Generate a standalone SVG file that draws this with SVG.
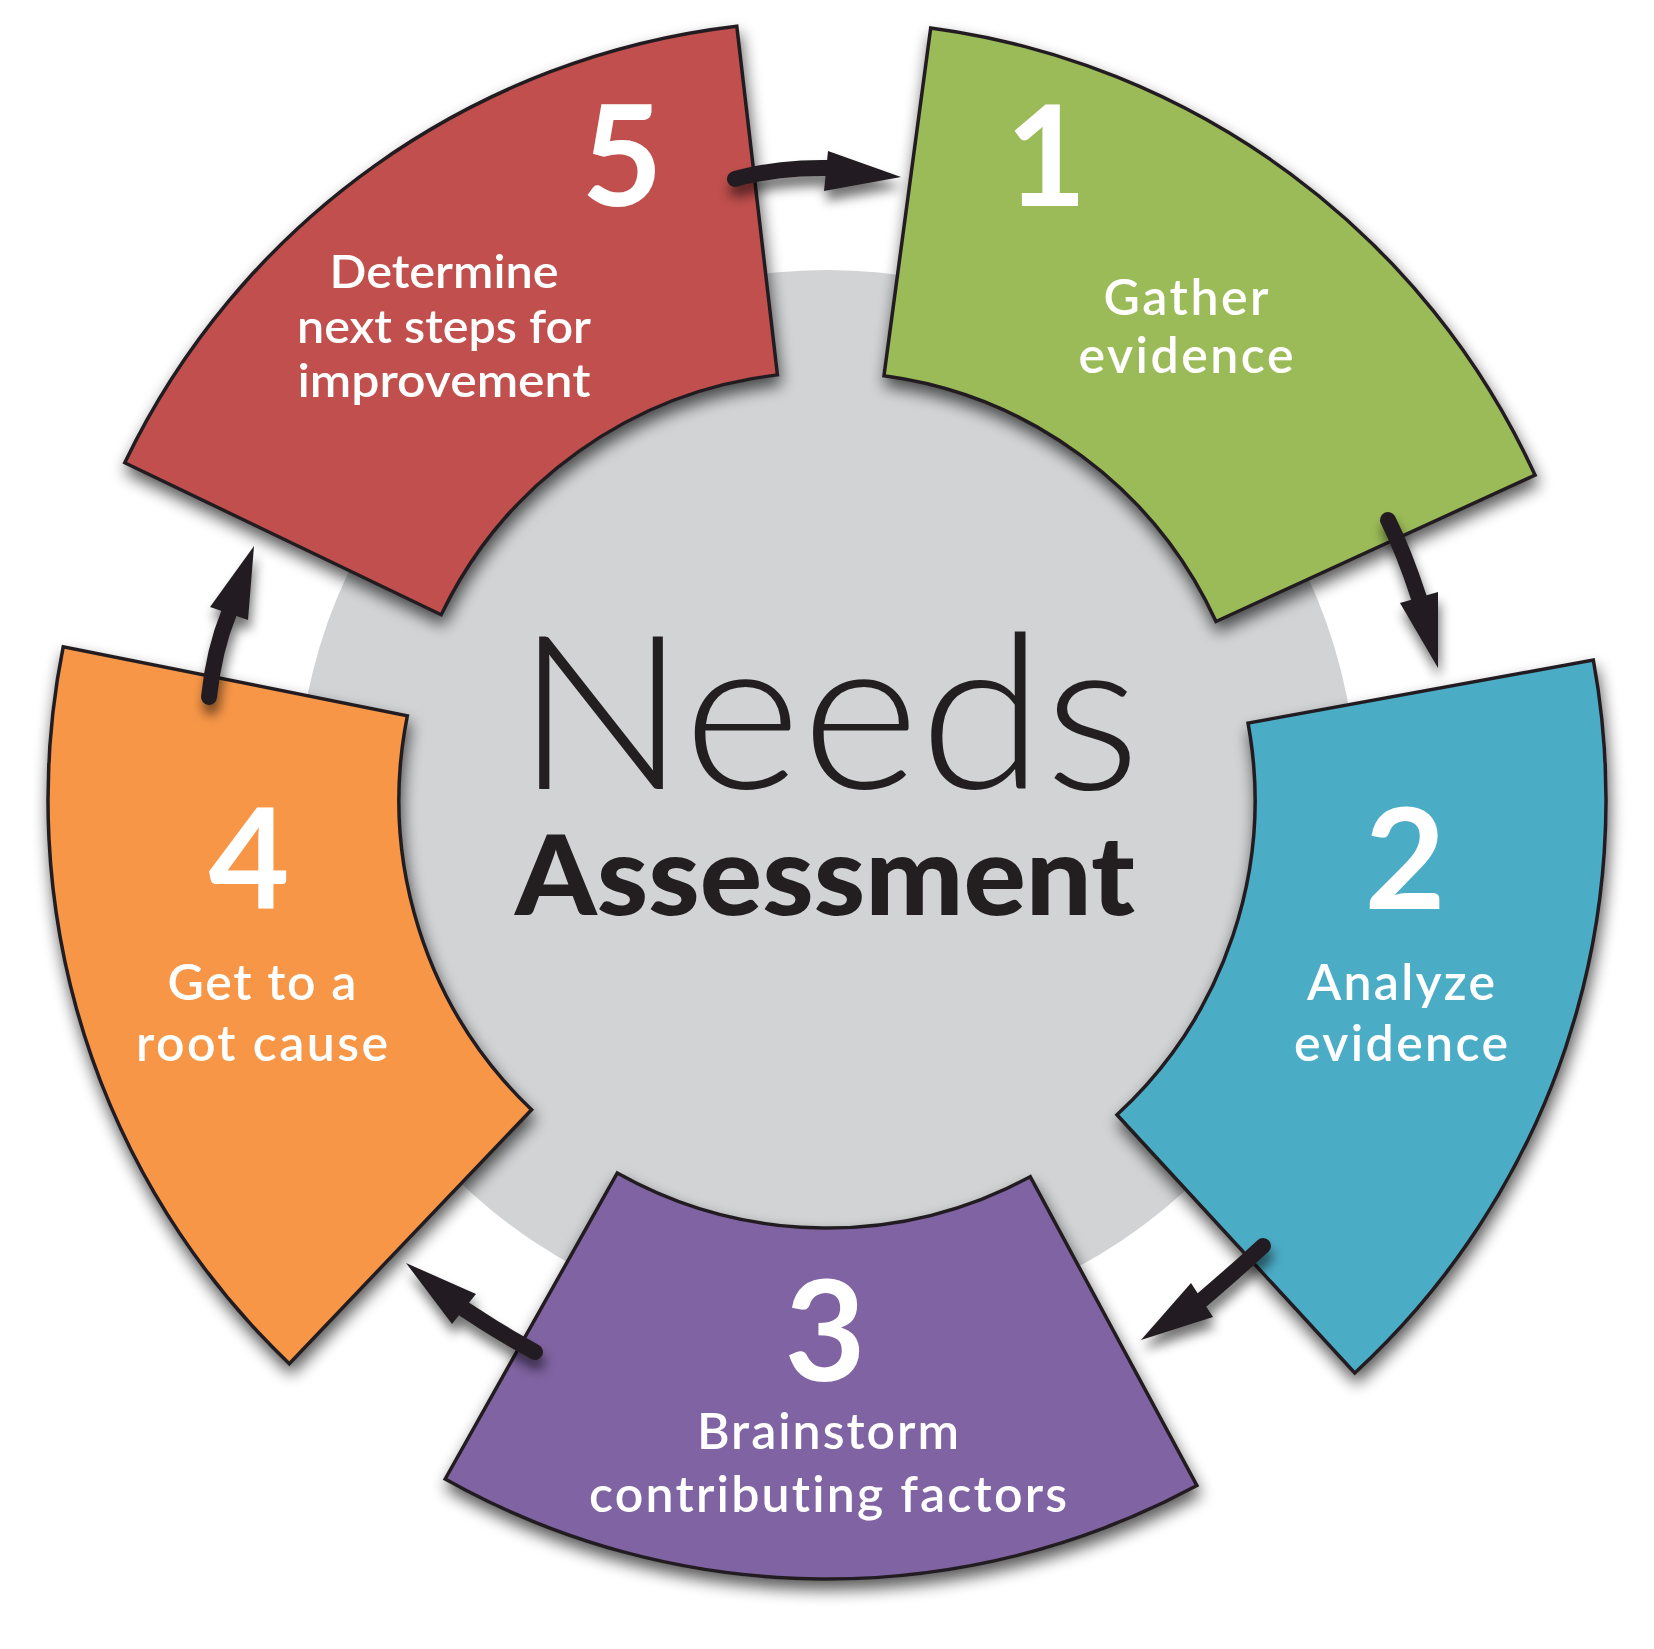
<svg xmlns="http://www.w3.org/2000/svg" width="1654" height="1649" viewBox="0 0 1654 1649">
<defs>
<filter id="shadow" x="-20%" y="-20%" width="140%" height="140%">
<feGaussianBlur in="SourceAlpha" stdDeviation="8"/>
<feOffset dx="2" dy="9" result="b"/>
<feComponentTransfer><feFuncA type="linear" slope="0.65"/></feComponentTransfer>
<feMerge><feMergeNode/><feMergeNode in="SourceGraphic"/></feMerge>
</filter>
<filter id="ashadow" x="-50%" y="-50%" width="200%" height="200%">
<feGaussianBlur in="SourceAlpha" stdDeviation="6"/>
<feOffset dx="2" dy="10" result="b"/>
<feComponentTransfer><feFuncA type="linear" slope="0.55"/></feComponentTransfer>
<feMerge><feMergeNode/><feMergeNode in="SourceGraphic"/></feMerge>
</filter>
</defs>
<style>
text{font-variant-ligatures:none}
.seg{stroke:#231f20;stroke-width:3.5;stroke-linejoin:miter}
.num{font-family:Lato,"Liberation Sans",sans-serif;font-weight:700;font-size:140px;fill:#fff;text-anchor:middle}
.lbl{font-family:Lato,"Liberation Sans",sans-serif;font-weight:600;font-size:50px;fill:#fff;text-anchor:middle}
.lbs{font-family:Lato,"Liberation Sans",sans-serif;font-weight:600;font-size:46px;fill:#fff;text-anchor:middle}
.shaft{fill:none;stroke:#231f20;stroke-width:16;stroke-linecap:round}
.head{fill:#231f20}
.t1{font-family:Lato,"Liberation Sans",sans-serif;font-weight:300;font-size:215px;fill:#231f20;text-anchor:middle}
.t2{font-family:Lato,"Liberation Sans",sans-serif;font-weight:900;font-size:110px;fill:#231f20;text-anchor:middle}
</style>
<rect width="1654" height="1649" fill="#ffffff"/>
<g id="center">
<circle cx="827" cy="800" r="530" fill="#d1d3d4"/>
</g>
<g id="step1" filter="url(#shadow)">
<path class="seg" fill="#9bbb59" d="M930.7,27.93 A779,779 0 0 1 1535.01,475.1 L1216,621.49 A428,428 0 0 0 883.98,375.81 Z"/>
<text class="num" x="1046" y="206">1</text>
<text class="lbl" x="1186" y="315" textLength="165">Gather</text>
<text class="lbl" x="1186" y="373" textLength="215">evidence</text>
</g>
<g id="step2" filter="url(#shadow)">
<path class="seg" fill="#4bacc6" d="M1593.33,660.05 A779,779 0 0 1 1354.79,1372.96 L1116.98,1114.8 A428,428 0 0 0 1248.04,723.11 Z"/>
<text class="num" x="1405" y="909">2</text>
<text class="lbl" x="1401" y="1000" textLength="188">Analyze</text>
<text class="lbl" x="1401" y="1061" textLength="214">evidence</text>
</g>
<g id="step3" filter="url(#shadow)">
<path class="seg" fill="#8064a2" d="M1196.92,1485.57 A779,779 0 0 1 445.18,1479.01 L617.22,1173.06 A428,428 0 0 0 1030.24,1176.67 Z"/>
<text class="num" x="825" y="1381">3</text>
<text class="lbl" x="828" y="1449" textLength="262">Brainstorm</text>
<text class="lbl" x="828" y="1512" textLength="478">contributing factors</text>
</g>
<g id="step4" filter="url(#shadow)">
<path class="seg" fill="#f79646" d="M289.3,1363.66 A779,779 0 0 1 63.24,646.69 L407.37,715.77 A428,428 0 0 0 531.57,1109.69 Z"/>
<text class="num" x="249" y="909">4</text>
<text class="lbl" x="262" y="1000" textLength="189">Get to a</text>
<text class="lbl" x="262" y="1061" textLength="252">root cause</text>
</g>
<g id="step5" filter="url(#shadow)">
<path class="seg" fill="#c0504d" d="M124.77,462.79 A779,779 0 0 1 736.79,26.24 L777.44,374.88 A428,428 0 0 0 441.18,614.73 Z"/>
<text class="num" x="622" y="206">5</text>
<text class="lbs" x="444" y="288" textLength="229" lengthAdjust="spacingAndGlyphs">Determine</text>
<text class="lbs" x="444" y="343" textLength="294" lengthAdjust="spacingAndGlyphs">next steps for</text>
<text class="lbs" x="444" y="397" textLength="293" lengthAdjust="spacingAndGlyphs">improvement</text>
</g>
<g id="title">
<text class="t1" x="828" y="789" textLength="625" lengthAdjust="spacingAndGlyphs">Needs</text>
<text class="t2" x="825" y="915" textLength="620" lengthAdjust="spacingAndGlyphs">Assessment</text>
</g>
<g id="connectors" filter="url(#ashadow)">
<path class="shaft" d="M735,179 Q778,167 830,168"/>
<polygon class="head" points="828,151 901,177 824,191"/>
<path class="shaft" d="M1388,520 Q1404,552 1419,598"/>
<polygon class="head" points="1400,603 1438,592 1438,668"/>
<path class="shaft" d="M1263,1246 Q1235,1272 1202,1300"/>
<polygon class="head" points="1191,1283 1213,1317 1141,1340"/>
<path class="shaft" d="M535,1352 Q500,1333 464,1309"/>
<polygon class="head" points="476,1294 452,1324 406,1263"/>
<path class="shaft" d="M209,697 Q214,650 229,613"/>
<polygon class="head" points="210,607 248,620 254,546"/>
</g>
</svg>
